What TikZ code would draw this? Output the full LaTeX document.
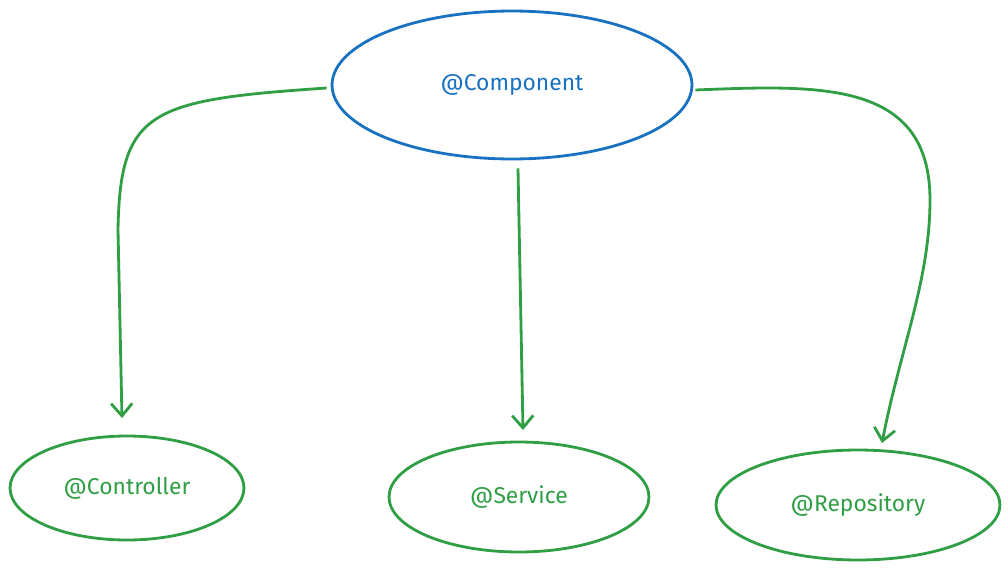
\documentclass[tikz,border=0pt]{standalone}
\usepackage{fontspec}
\setmainfont{Fira Sans}
\usetikzlibrary{shapes.geometric,arrows.meta}
\definecolor{cblue}{HTML}{1971C2}
\definecolor{cgreen}{HTML}{2F9E44}
\begin{document}
\begin{tikzpicture}[x=0.02cm,y=-0.02cm,
  oval/.style={ellipse,draw,line width=1.6pt,inner sep=0pt,font=\fontsize{13}{15}\selectfont},
  link/.style={draw=cgreen,line width=1.6pt,-{Straight Barb[length=7pt,width=12pt]}}]
\useasboundingbox (0,0) rectangle (1008,572);
\node[oval,draw=cblue,text=cblue,minimum width=360\pgflinewidth*0+7.2cm,minimum height=2.96cm] (comp) at (512,85) {@Component};
\node[oval,draw=cgreen,text=cgreen,minimum width=4.68cm,minimum height=2.08cm] (ctrl) at (127,488) {@Controller};
\node[oval,draw=cgreen,text=cgreen,minimum width=5.2cm,minimum height=2.2cm] (serv) at (519,497) {@Service};
\node[oval,draw=cgreen,text=cgreen,minimum width=5.68cm,minimum height=2.2cm] (repo) at (858,505) {@Repository};
\coordinate (ce) at (122,418);
\coordinate (se) at (523,430);
\coordinate (re) at (882,443);
\draw[link] (comp.west |- 0,88) ++(-4,0) .. controls (150,100) and (120,110) .. (118,230) -- (ce);
\draw[link] (comp.south) ++(6,8) -- (se);
\draw[link] (comp.east) ++(2,5) .. controls (820,85) and (930,80) .. (930,200) .. controls (930,280) and (900,350) .. (re);
\end{tikzpicture}
\end{document}
